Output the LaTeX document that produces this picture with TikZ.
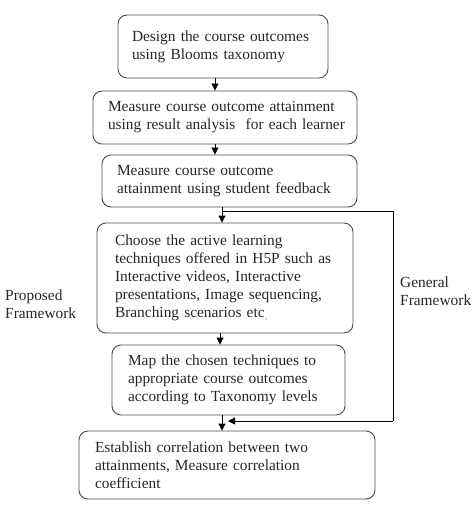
\documentclass[tikz,border=0pt]{standalone}
\usepackage{fontspec}
\setmainfont{Liberation Serif}
\usetikzlibrary{arrows.meta}
\begin{document}
\begin{tikzpicture}[x=1pt,y=-1pt,
  box/.style={draw=black!70, line width=0.9pt, rounded corners=9pt, align=left,
    font=\fontsize{15.4}{18}\selectfont, text=black!85, inner xsep=0pt, inner ysep=0pt},
  lab/.style={align=left, font=\fontsize{15.4}{18}\selectfont, text=black!85, inner sep=0pt, anchor=west},
  arr/.style={line width=0.9pt, -{Triangle[length=7pt,width=7pt]}}]
\useasboundingbox (0,0) rectangle (474,505);
\node[box, minimum width=210pt, minimum height=63pt, text width=182pt] (b1) at (223,46.5)
  {Design the course outcomes\\using Blooms taxonomy};
\node[box, minimum width=264pt, minimum height=53pt, text width=234pt] (b2) at (225,117.5)
  {\mbox{Measure course outcome attainment}\\\mbox{using result analysis\ \ for each learner}};
\node[box, minimum width=255pt, minimum height=52pt, text width=225pt] (b3) at (229.5,181)
  {Measure course outcome\\\mbox{attainment using student feedback}};
\node[box, minimum width=256pt, minimum height=110pt, text width=220pt] (b4) at (225,278)
  {Choose the active learning\\\mbox{techniques offered in H5P such\ as}\\\mbox{Interactive videos, Interactive}\\\mbox{presentations, Image sequencing,}\\\mbox{Branching scenarios etc\textsubscript{\tiny.,}}};
\node[box, minimum width=233pt, minimum height=70pt, text width=201pt] (b5) at (228.5,380)
  {\mbox{Map the chosen techniques to}\\\mbox{appropriate course outcomes}\\\mbox{according to Taxonomy levels}};
\node[box, minimum width=296pt, minimum height=68pt, text width=264pt] (b6) at (227,465)
  {\mbox{Establish correlation between two}\\\mbox{attainments, Measure correlation}\\coefficient};
\node[lab] (pf) at (5,304) {Proposed\\Framework};
\node[lab] (gf) at (400,291) {General\\Framework};
\coordinate (c1) at (222,211);
\coordinate (c2) at (393,211);
\coordinate (c3) at (393,421);
\coordinate (c4) at (228,421);
\draw[arr] (b1.south -| 215,0) -- (b2.north -| 215,0);
\draw[arr] (b2.south -| 215,0) -- (b3.north -| 215,0);
\draw[arr] (b3.south -| 222,0) -- (b4.north -| 222,0);
\draw[arr] (b4.south -| 220,0) -- (b5.north -| 220,0);
\draw[arr] (b5.south -| 222,0) -- (b6.north -| 222,0);
\draw[line width=0.9pt] (c1) -- (c2) -- (c3);
\draw[arr] (c3) -- (c4);
\end{tikzpicture}
\end{document}
